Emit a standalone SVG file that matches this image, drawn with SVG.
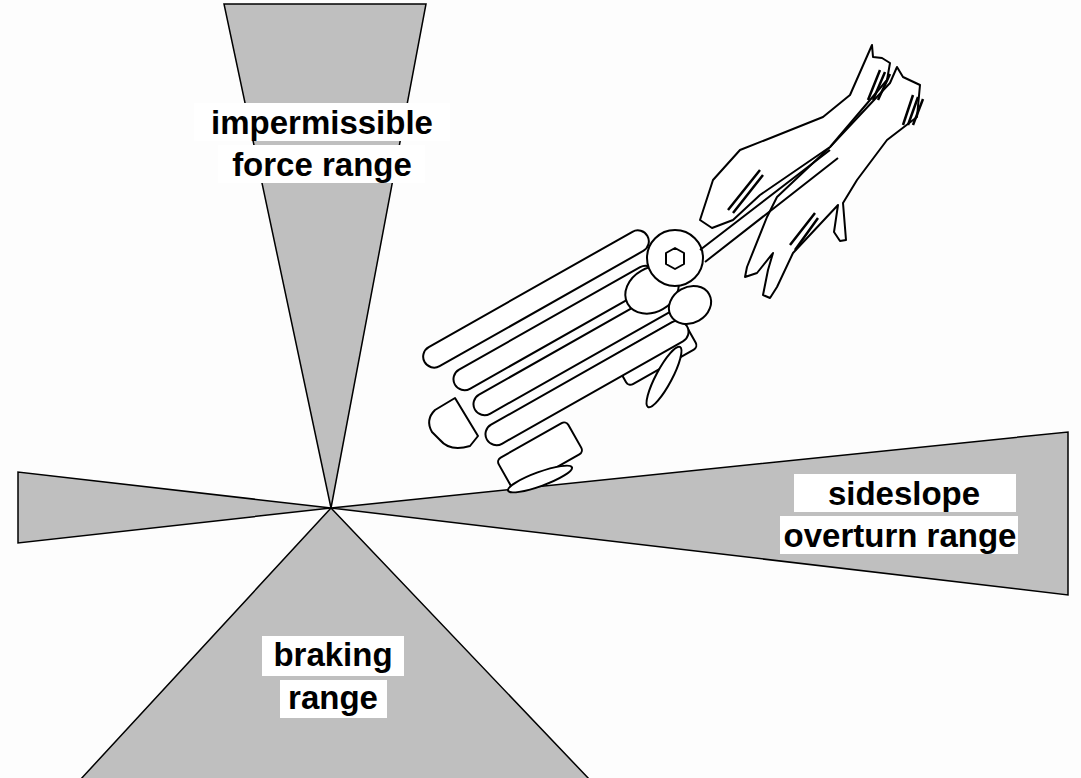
<svg xmlns="http://www.w3.org/2000/svg" width="1081" height="778" viewBox="0 0 1081 778">
<style>
.w{fill:#bfbfbf;stroke:#000;stroke-width:1.5}
.d{fill:#fff;stroke:#000;stroke-width:2;stroke-linejoin:round}
.l{fill:none;stroke:#000;stroke-width:2}
.t{font-family:"Liberation Sans",Arial,sans-serif;font-weight:bold;font-size:33px;text-anchor:middle;fill:#000}
.bg{fill:#fff}
</style>
<rect width="1081" height="778" fill="#fdfdfd"/>
<g id="wedges">
<polygon class="w" points="224,4 426,4 331,508"/>
<polygon class="w" points="18,472 18,543 331,508"/>
<polygon class="w" points="1068,432 1068,595 331,508"/>
<polygon class="w" points="80,780 590,780 331,508"/>
</g>
<g id="chair">
<rect class="d" x="500" y="438" width="80" height="36" rx="5" transform="rotate(-29.5 540 456)"/>
<rect class="d" x="615" y="335" width="80" height="34" rx="5" transform="rotate(-29.5 655 352)"/>
<path class="d" d="M455,398 L435,410 Q425,420 432,432 L440,440 Q450,452 470,446 L478,436 Z"/>
<rect class="d" x="408" y="288" width="256" height="22" rx="11" transform="rotate(-29.5 536 299)"/>
<rect class="d" x="440" y="317" width="230" height="22" rx="11" transform="rotate(-29.5 555 328)"/>
<rect class="d" x="460" y="342" width="230" height="22" rx="11" transform="rotate(-29.5 575 353)"/>
<rect class="d" x="472" y="372" width="230" height="22" rx="11" transform="rotate(-29.5 587 383)"/>
<ellipse class="d" cx="540" cy="479" rx="34" ry="7" transform="rotate(-20 540 479)"/>
<ellipse class="d" cx="664" cy="377" rx="34" ry="8" transform="rotate(-62 664 377)"/>
<ellipse class="d" cx="652" cy="290" rx="28" ry="22" transform="rotate(-29.5 652 290)"/>
<ellipse class="d" cx="690" cy="305" rx="22" ry="18" transform="rotate(-29.5 690 305)"/>
<circle class="d" cx="675" cy="258" r="28"/>
<polygon class="d" points="675,248 684,253 684,264 675,269 666,264 666,253"/>
</g>
<g id="hands">
<path class="d" d="M897,67 L903,77 L920,85 L917,117 L887,140 L857,180 L843,203 L846,240 L840,241 L834,232 L838,205 L793,253 L777,287 L770,298 L763,295 L768,270 L773,253 L757,273 L745,277 L747,267 L767,217 L777,197 L830,147 L890,83 Z"/>
<path class="d" d="M872,45 L873,57 L882,58 L890,63 L887,80 L830,147 L760,195 L733,220 L712,228 L700,220 L713,180 L740,150 L773,137 L823,117 L850,95 Z"/>
<path class="l" d="M700,250 L830,150 M705,262 L838,158"/>
<path d="M728,210 L760,170 M733,213 L763,175 M790,245 L815,213 M795,250 L818,218 M868,100 L880,70 M873,100 L885,72 M878,100 L890,74 M903,125 L913,95 M908,125 L918,97 M913,125 L923,99" stroke="#000" stroke-width="2.5" fill="none"/>
</g>
<g id="labels">
<rect class="bg" x="194" y="103" width="256" height="38"/>
<rect class="bg" x="218" y="145" width="207" height="38"/>
<text class="t" x="322" y="134">impermissible</text>
<text class="t" x="322" y="176">force range</text>
<rect class="bg" x="794" y="474" width="222" height="38"/>
<rect class="bg" x="780" y="516" width="238" height="38"/>
<text class="t" x="904" y="505">sideslope</text>
<text class="t" x="900" y="547">overturn range</text>
<rect class="bg" x="262" y="636" width="142" height="40"/>
<rect class="bg" x="280" y="680" width="107" height="38"/>
<text class="t" x="333" y="666">braking</text>
<text class="t" x="333" y="709">range</text>
</g>
</svg>
